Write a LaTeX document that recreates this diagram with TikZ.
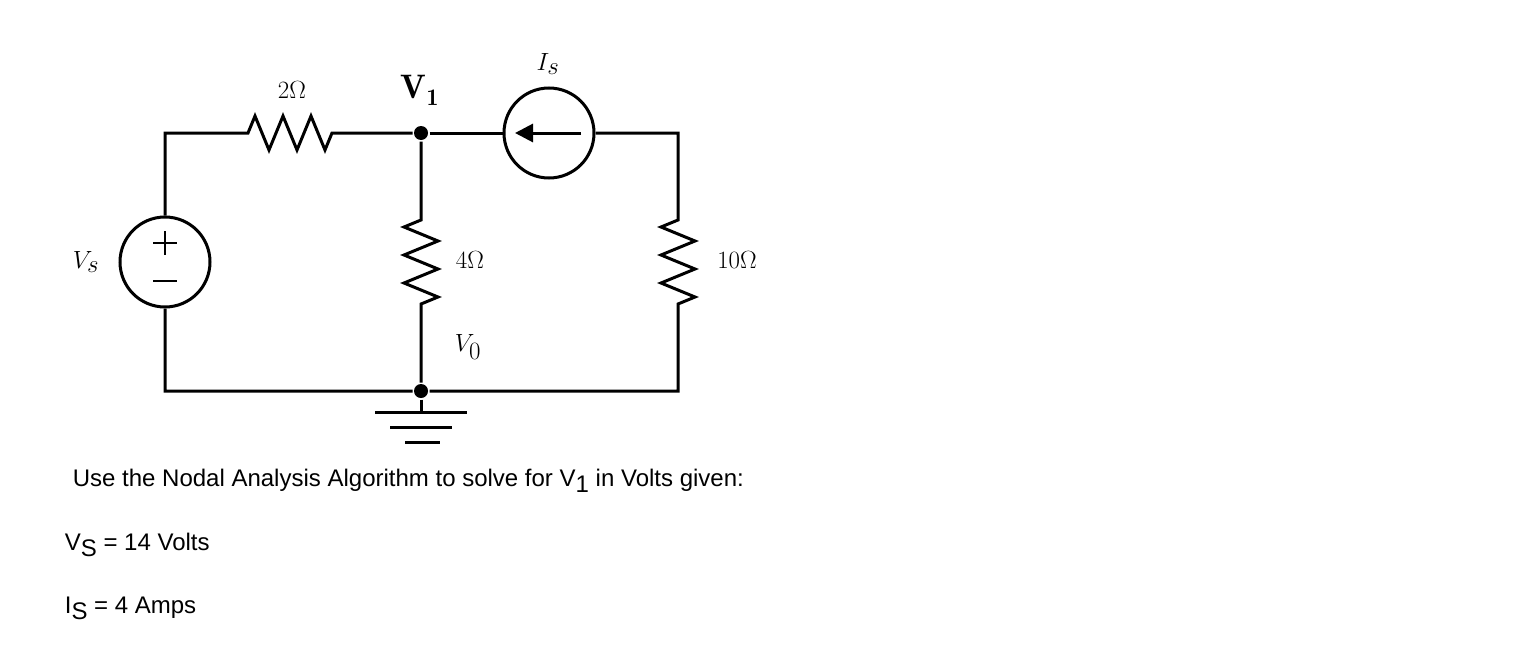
\documentclass[tikz,border=0pt]{standalone}
\usepackage{fontspec}
\newfontfamily\sans{Liberation Sans}
\usetikzlibrary{arrows.meta}
\begin{document}
\begin{tikzpicture}[x=1pt,y=-1pt,line width=3pt,
  lbl/.style={font=\fontsize{34}{38}\selectfont},
  txt/.style={font=\sans\fontsize{24}{28}\selectfont,anchor=west},
  dot/.style={circle,fill,inner sep=0pt,minimum size=14pt}]
\useasboundingbox (0,0) rectangle (1530,645);
% nodes
\coordinate (tl) at (165,133); \coordinate (bl) at (165,391);
\coordinate (tr) at (678,133); \coordinate (br) at (678,391);
\node[dot] (v1) at (421,133) {};
\node[dot] (g) at (421,391) {};
\node[circle,draw,minimum size=90pt,inner sep=0pt] (vs) at (165,262) {};
\node[circle,draw,minimum size=90pt,inner sep=0pt] (is) at (549,133) {};
% wires
\draw (vs.north) -- (tl) -- (248,133) -- (255,116) -- (269,150) -- (283,116) -- (297,150) -- (311,116) -- (325,150) -- (332,133) -- (v1);
\draw (v1) -- (is.west); \draw (is.east) -- (tr) -- (678,220) -- (661,227) -- (695,241) -- (661,255) -- (695,269) -- (661,283) -- (695,297) -- (678,304) -- (br) -- (g) -- (bl) -- (vs.south);
\draw (v1) -- (421,220) -- (404,227) -- (438,241) -- (404,255) -- (438,269) -- (404,283) -- (438,297) -- (421,304) -- (g);
% source symbols
\draw[line width=2pt] (153,243) -- (177,243) (165,231) -- (165,255) (153,281) -- (177,281);
\draw[line width=3pt,-{Triangle[length=18pt,width=18pt]}] (581,133) -- (515,133);
% ground
\draw (g) -- (421,412);
\draw (375,412) -- (467,412) (390,427) -- (452,427) (405,442) -- (440,442);
% labels
\node[lbl] at (292,90) {$2\Omega$};
\node[lbl] at (420,90) {$\mathbf{V_1}$};
\node[lbl] at (548,64) {$I_s$};
\node[lbl] at (86,262) {$V_s$};
\node[lbl] at (470,260) {$4\Omega$};
\node[lbl] at (737,260) {$10\Omega$};
\node[lbl] at (468,347) {$V_0$};
\node[txt] at (68,481) {Use the Nodal Analysis Algorithm to solve for V\raisebox{-6pt}{1} in Volts given:};
\node[txt] at (60,545) {V\raisebox{-6pt}{S} = 14 Volts};
\node[txt] at (60,608) {I\raisebox{-6pt}{S} = 4 Amps};
\end{tikzpicture}
\end{document}
